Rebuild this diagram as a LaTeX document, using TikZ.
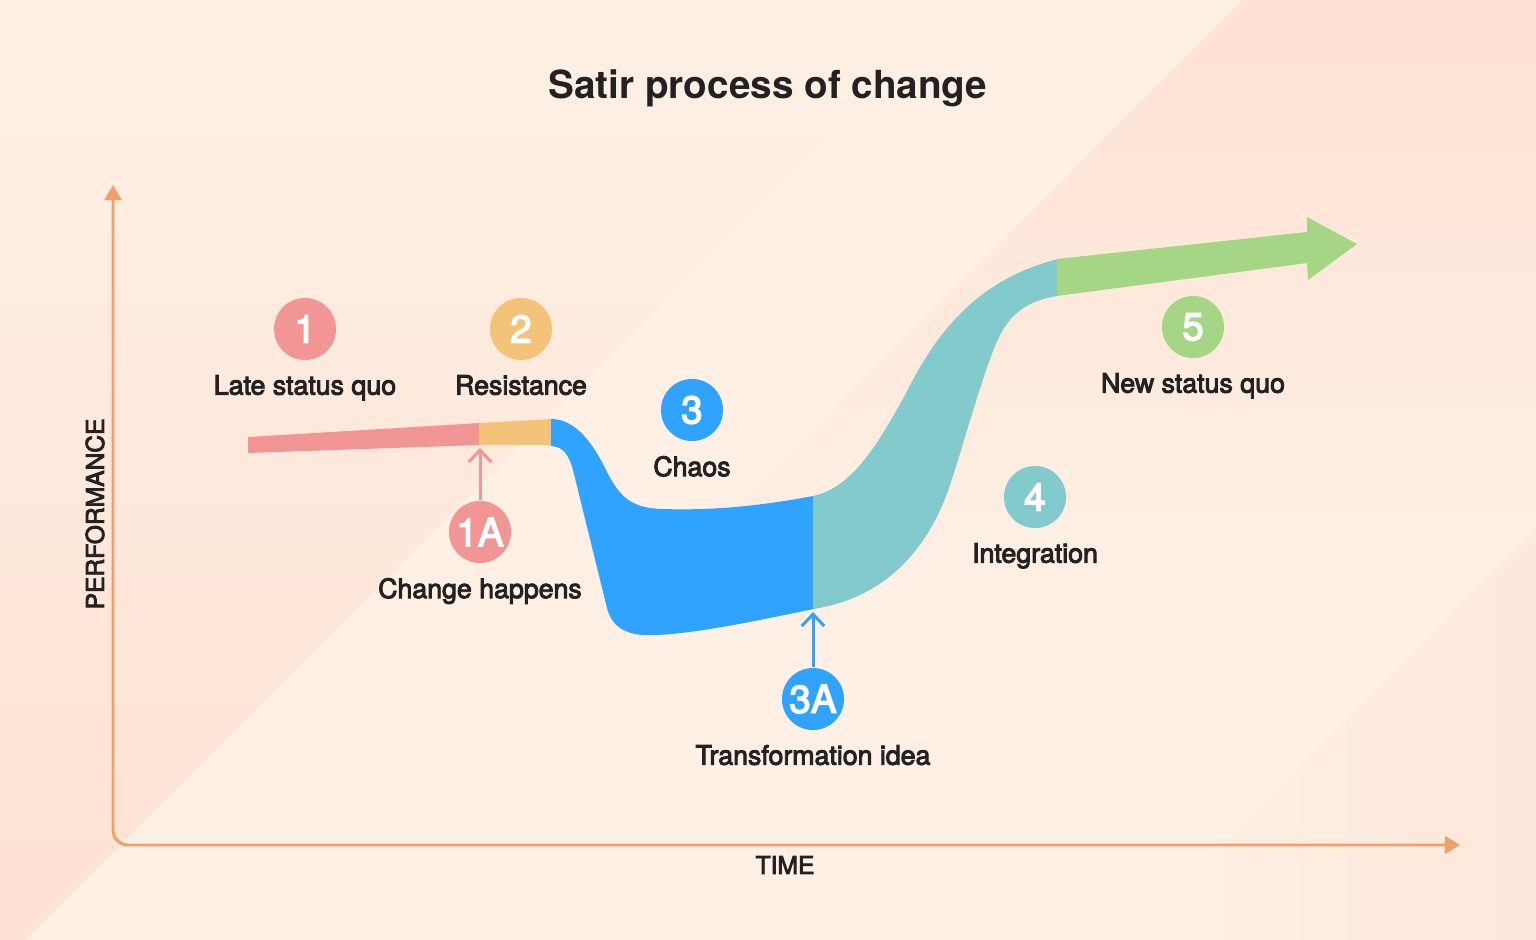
\documentclass[tikz,border=0pt]{standalone}
\usepackage{fontspec}
\setmainfont{TeX Gyre Heros}
\newfontfamily\medfont[FakeBold=3.5]{TeX Gyre Heros}
\usetikzlibrary{positioning,arrows.meta}
\definecolor{cream}{HTML}{FEF0E5}
\definecolor{peach}{HTML}{FEE2D3}
\definecolor{ink}{HTML}{222222}
\definecolor{axisc}{HTML}{F0A06A}
\definecolor{pinkc}{HTML}{F29595}
\definecolor{orangec}{HTML}{F4C37A}
\definecolor{bluec}{HTML}{30A2FF}
\definecolor{tealc}{HTML}{82CACC}
\definecolor{greenc}{HTML}{A5D686}

\begin{document}
\begin{tikzpicture}[x=0.01cm,y=-0.01cm,
	stepdot/.style={circle,minimum size=0.62cm,inner sep=0pt,text=white,font=\medfont\fontsize{11}{12}\selectfont},
	steplbl/.style={inner sep=0pt,text=ink,font=\medfont\fontsize{7.6}{9}\selectfont,below=3.9pt of #1},
	axisline/.style={axisc,line width=0.85pt,rounded corners=4.3pt},
	pointer/.style={line width=0.85pt,-{Straight Barb[length=3.4pt,width=6.4pt]}}]
	\useasboundingbox (0,0) rectangle (1536,940);
	
	%BACKGROUND
	\fill[cream] (0,0) rectangle (1536,940);
	\shade[top color=cream,bottom color=peach] (0,0) -- (965,0) -- (25,940) -- (0,940) -- cycle;
	\shade[top color=peach,bottom color=cream] (1243,0) -- (1536,0) -- (1536,600) -- (643,600) -- cycle;
	\shade[left color=cream,right color=cream!40!peach] (1126,940) -- (1536,530) -- (1536,940) -- cycle;
	
	%AXES
	\coordinate (yTop) at (113,185);
	\coordinate (xEnd) at (1460,845);
	\draw[axisline,{Triangle[length=4.3pt,width=4.8pt]}-{Triangle[length=4.3pt,width=5pt]}] (yTop) |- (xEnd);
	\node[ink,rotate=90,font=\medfont\fontsize{7}{8}\selectfont] (perf) at (95,514) {PERFORMANCE};
	\node[ink,font=\medfont\fontsize{7}{8}\selectfont] (time) at (785,865) {TIME};
	
	%TITLE
	\node[ink,font=\bfseries\fontsize{11}{13}\selectfont] (title) at (768,88) {Satir process of change};
	
	%BANDS
	\fill[pinkc] (248,437) -- (480,423) -- (480,445) -- (248,453) -- cycle; %late status quo
	\fill[orangec] (479,423) -- (552,419) -- (552,446) .. controls (547,445) .. (540,445) -- (479,445) -- cycle; %resistance
	\fill[bluec] (551,419) .. controls (575,419) and (592,442) .. (605,468)
		.. controls (618,494) and (628,508) .. (662,509)
		.. controls (720,511) and (770,504) .. (813.5,496) -- (813.5,609)
		.. controls (760,620) and (700,633) .. (657,635)
		.. controls (628,637) and (612,628) .. (607,608) -- (573,470)
		.. controls (568,452) and (562,447) .. (551,446) -- cycle; %chaos
	\fill[tealc] (813,496) .. controls (850,488) and (875,450) .. (905,395)
		.. controls (935,335) and (975,280) .. (1058,259) -- (1058,296)
		.. controls (1030,300) and (1012,312) .. (1000,335)
		.. controls (985,365) and (965,440) .. (950,485)
		.. controls (925,560) and (875,600) .. (813,609) -- cycle; %integration
	\fill[greenc] (1057,259) -- (1307,232) -- (1307,217) -- (1357,244) -- (1308,280) -- (1307,263) -- (1057,296) -- cycle; %new status quo
	
	%STEPS
	\node[stepdot,fill=pinkc] (c1) at (305,329) {1};
	\node[steplbl=c1] (l1) {Late status quo};
	\node[stepdot,fill=orangec] (c2) at (521,329) {2};
	\node[steplbl=c2] (l2) {Resistance};
	\node[stepdot,fill=bluec] (c3) at (692,410) {3};
	\node[steplbl=c3] (l3) {Chaos};
	\node[stepdot,fill=tealc] (c4) at (1035,497) {4};
	\node[steplbl=c4] (l4) {Integration};
	\node[stepdot,fill=greenc] (c5) at (1193,327) {5};
	\node[steplbl=c5] (l5) {New status quo};
	\node[stepdot,fill=pinkc] (c1A) at (480,532) {1A};
	\node[steplbl=c1A] (l1A) {Change happens};
	\node[stepdot,fill=bluec] (c3A) at (813,699) {3A};
	\node[steplbl=c3A] (l3A) {Transformation idea};
	
	%POINTERS
	\coordinate (chg) at (480,448);
	\coordinate (idea) at (813,612);
	\draw[pointer,pinkc] (c1A) -- (chg);
	\draw[pointer,bluec] (c3A) -- (idea);
\end{tikzpicture}
\end{document}
